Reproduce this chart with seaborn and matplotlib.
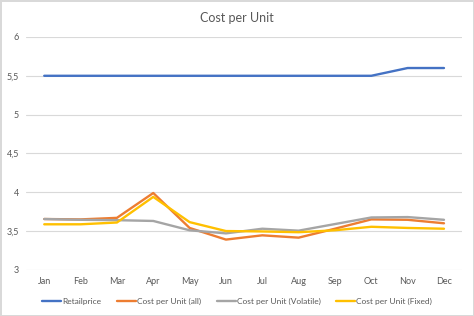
import matplotlib
matplotlib.use('Agg')
import matplotlib.pyplot as plt
from matplotlib.ticker import FuncFormatter, MultipleLocator
import pandas as pd
import seaborn as sns

months = ['Jan', 'Feb', 'Mar', 'Apr', 'May', 'Jun', 'Jul', 'Aug', 'Sep', 'Oct', 'Nov', 'Dec']
retail_price = [5.5, 5.5, 5.5, 5.5, 5.5, 5.5, 5.5, 5.5, 5.5, 5.5, 5.6, 5.6]
cost_all = [3.655, 3.65, 3.67, 3.99, 3.54, 3.39, 3.445, 3.415, 3.53, 3.65, 3.645, 3.60]
cost_volatile = [3.655, 3.645, 3.64, 3.63, 3.51, 3.47, 3.53, 3.505, 3.59, 3.675, 3.68, 3.645]
cost_fixed = [3.587, 3.587, 3.61, 3.94, 3.615, 3.50, 3.495, 3.485, 3.51, 3.555, 3.54, 3.53]

series = {
    'Retailprice': retail_price,
    'Cost per Unit (all)': cost_all,
    'Cost per Unit (Volatile)': cost_volatile,
    'Cost per Unit (Fixed)': cost_fixed,
}
colors = ['#4472C4', '#ED7D31', '#A5A5A5', '#FFC000']

rows = []
for name, vals in series.items():
    for i, (m, v) in enumerate(zip(months, vals)):
        rows.append({'idx': i, 'month': m, 'series': name, 'value': v})
df = pd.DataFrame(rows)

sns.set_style('white')
plt.rcParams['font.family'] = ['Lato', 'DejaVu Sans']

fig = plt.figure(figsize=(4.74, 3.16), dpi=100)
ax = fig.add_axes([0.055, 0.146, 0.92, 0.737])

sns.lineplot(data=df, x='idx', y='value', hue='series', palette=colors,
             linewidth=1.7, ax=ax, legend=True)

ax.set_xlim(-0.5, 11.5)
ax.set_ylim(3, 6)
ax.yaxis.set_major_locator(MultipleLocator(0.5))
ax.yaxis.set_major_formatter(FuncFormatter(lambda v, p: ('%g' % v).replace('.', ',')))
ax.set_xticks(range(len(months)))
ax.set_xticklabels(months)
ax.tick_params(axis='both', labelsize=6.5, labelcolor='#595959', length=0, pad=5)
ax.set_xlabel('')
ax.set_ylabel('')
ax.grid(axis='y', color='#D9D9D9', linewidth=0.8)
ax.set_axisbelow(True)
for s in ax.spines.values():
    s.set_visible(False)

fig.suptitle('Cost per Unit', y=0.962, fontsize=9, color='#595959')

handles, labels = ax.get_legend_handles_labels()
ax.legend_.remove()
fig.legend(handles, labels, loc='center', bbox_to_anchor=(0.5, 0.047), ncol=4,
           frameon=False, fontsize=6.0, labelcolor='#595959', handlelength=2.3,
           handletextpad=0.1, columnspacing=1.9)

fig.patch.set_edgecolor('#D9D9D9')
fig.patch.set_linewidth(1.0)

fig.savefig('out.png', dpi=100, edgecolor=fig.get_edgecolor())
